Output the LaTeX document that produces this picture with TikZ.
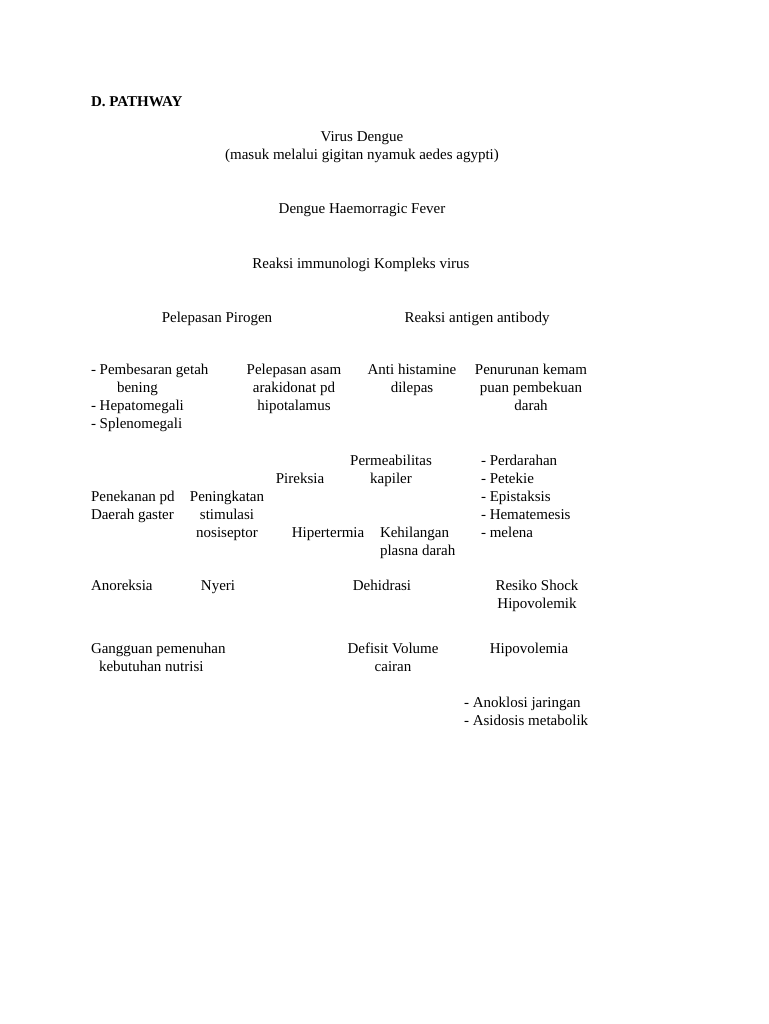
\documentclass[tikz,border=0pt]{standalone}
\usepackage{fontspec}
\setmainfont{Liberation Serif}
\begin{document}
\begin{tikzpicture}[x=1pt,y=-1pt,
  txt/.style={inner sep=0pt,outer sep=0pt,font=\fontsize{15}{18}\selectfont,align=center,anchor=base},
  ltxt/.style={txt,align=left,anchor=base west}]
\useasboundingbox[fill=white] (0,0) rectangle (768,1024);
\node[ltxt,font=\fontsize{15}{18}\selectfont\bfseries] (title) at (91,107) {D. PATHWAY};
\node[txt] (virus) at (362,160) {Virus Dengue\\(masuk melalui gigitan nyamuk aedes agypti)};
\node[txt] (dhf) at (362,214) {Dengue Haemorragic Fever};
\node[txt] (reaksi) at (361,268) {Reaksi immunologi Kompleks virus};
\node[txt] (pirogen) at (217,322) {Pelepasan Pirogen};
\node[txt] (antigen) at (477,322) {Reaksi antigen antibody};
\node[ltxt] (pembesaran) at (91,428) {- Pembesaran getah\\\hspace*{26pt}bening\\- Hepatomegali\\- Splenomegali};
\node[txt] (asam) at (294,410) {Pelepasan asam\\arakidonat pd\\hipotalamus};
\node[txt] (histamine) at (412,392) {Anti histamine\\dilepas};
\node[txt] (penurunan) at (531,410) {Penurunan kemam\\puan pembekuan\\darah};
\node[txt] (permeab) at (391,483) {Permeabilitas\\kapiler};
\node[txt] (pireksia) at (300,483) {Pireksia};
\node[ltxt] (perdarahan) at (481,537) {- Perdarahan\\- Petekie\\- Epistaksis\\- Hematemesis\\- melena};
\node[ltxt] (penekanan) at (91,519) {Penekanan pd\\Daerah gaster};
\node[txt] (peningkatan) at (227,537) {Peningkatan\\stimulasi\\nosiseptor};
\node[txt] (hipertermia) at (328,537) {Hipertermia};
\node[ltxt] (kehilangan) at (380,555) {Kehilangan\\plasna darah};
\node[ltxt] (anoreksia) at (91,590) {Anoreksia};
\node[txt] (nyeri) at (218,590) {Nyeri};
\node[txt] (dehidrasi) at (382,590) {Dehidrasi};
\node[txt] (resiko) at (537,608) {Resiko Shock\\Hipovolemik};
\node[ltxt] (gangguan) at (91,671) {Gangguan pemenuhan\\\hspace*{8pt}kebutuhan nutrisi};
\node[txt] (defisit) at (393,671) {Defisit Volume\\cairan};
\node[txt] (hipovolemia) at (529,653) {Hipovolemia};
\node[ltxt] (anoklosi) at (464,725) {- Anoklosi jaringan\\- Asidosis metabolik};
\end{tikzpicture}
\end{document}
